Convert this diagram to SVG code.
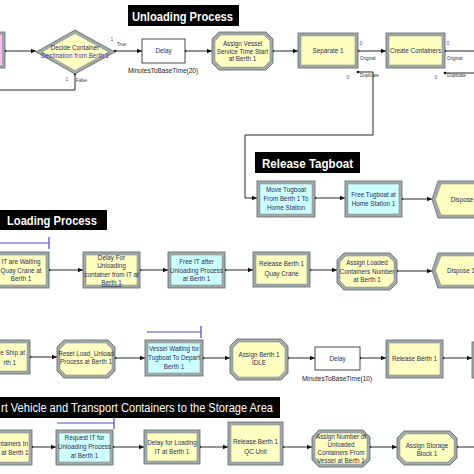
<svg xmlns="http://www.w3.org/2000/svg" width="474" height="474" viewBox="0 0 474 474">
<defs>
<marker id="ar" markerWidth="6" markerHeight="6" refX="5" refY="3" orient="auto" markerUnits="userSpaceOnUse"><path d="M0,0.8 L5,3 L0,5.2 Z" fill="#111"/></marker>
<marker id="dt" markerWidth="4" markerHeight="4" refX="2" refY="2" markerUnits="userSpaceOnUse"><circle cx="2" cy="2" r="1.3" fill="#111"/></marker>
<style>
.fr{fill:#a2aaaa;stroke:#5e6666;stroke-width:0.8}
.y{fill:#ffffc2;stroke:#7c8484;stroke-width:0.5}
.c{fill:#ccffff;stroke:#7c8484;stroke-width:0.5}
.p{fill:#ffbcf2;stroke:#7c8484;stroke-width:0.5}
.w{fill:#ffffff;stroke:#333;stroke-width:0.9}
.t{font-family:"Liberation Sans",Arial,sans-serif;font-size:6.3px;fill:#2c2c55;text-anchor:middle}
.te{font-family:"Liberation Sans",Arial,sans-serif;font-size:6.3px;fill:#2c2c55;text-anchor:end}
.s{font-family:"Liberation Sans",Arial,sans-serif;font-size:4.5px;fill:#333;text-anchor:start}
.b{font-family:"Liberation Sans",Arial,sans-serif;font-size:5px;fill:#4848c8;text-anchor:middle}
.lb{font-family:"Liberation Sans",Arial,sans-serif;font-size:6.5px;fill:#222;text-anchor:middle}
.h{font-family:"Liberation Sans",Arial,sans-serif;font-size:13px;font-weight:bold;fill:#fff}
.hb{fill:#000}
.cn{fill:none;stroke:#111;stroke-width:0.9;marker-end:url(#ar);marker-start:url(#dt)}
.br{fill:none;stroke:#4a4ac4;stroke-width:1.2}
</style>
</defs>
<rect width="474" height="474" fill="#fff"/>

<g id="titles">
<rect class="hb" x="128" y="5" width="111" height="21"/>
<text class="h" x="132" y="20.5" textLength="101" lengthAdjust="spacingAndGlyphs">Unloading Process</text>
<rect class="hb" x="255" y="152" width="105" height="21"/>
<text class="h" x="262" y="167.5" textLength="91" lengthAdjust="spacingAndGlyphs">Release Tagboat</text>
<rect class="hb" x="-2" y="210" width="109" height="20"/>
<text class="h" x="7" y="225" textLength="90" lengthAdjust="spacingAndGlyphs">Loading Process</text>
<rect class="hb" x="-2" y="397" width="282" height="21"/>
<text x="1" y="412" textLength="272" lengthAdjust="spacingAndGlyphs" style="font-family:'Liberation Sans',Arial,sans-serif;font-size:12.5px;fill:#fff">rt Vehicle and Transport Containers to the Storage Area</text>
</g>

<g id="brackets">
<path class="br" d="M0,243 H49 M49,237 V249"/>
<path class="br" d="M147,332 H201 M201,326 V338"/>
<path class="br" d="M57,423 H114 M114,417 V429"/>
</g>

<g id="connectors">
<path class="cn" d="M5,51 H36"/>
<path class="cn" d="M115,51 H142"/>
<path class="cn" d="M75,74 V90 H0" style="marker-end:none"/>
<path class="cn" d="M185,51 H212"/>
<path class="cn" d="M273,51 H298"/>
<path class="cn" d="M358,51 H386"/>
<path class="cn" d="M445,51 H474" style="marker-end:none"/>
<path class="cn" d="M358,72 H373 V135 H245 V198 H257"/>
<path class="cn" d="M445,73 H474" style="marker-end:none"/>
<path class="cn" d="M315,198 H345"/>
<path class="cn" d="M402,199 H432"/>
<path class="cn" d="M49,270 H83"/>
<path class="cn" d="M140,270 H168"/>
<path class="cn" d="M225,270 H253"/>
<path class="cn" d="M310,270 H337"/>
<path class="cn" d="M397,271 H432"/>
<path class="cn" d="M30,357 H57"/>
<path class="cn" d="M115,358 H145"/>
<path class="cn" d="M203,358 H230"/>
<path class="cn" d="M288,358 H315"/>
<path class="cn" d="M360,358 H386"/>
<path class="cn" d="M443,358 H472"/>
<path class="cn" d="M32,447 H56"/>
<path class="cn" d="M113,447 H144"/>
<path class="cn" d="M200,447 H228"/>
<path class="cn" d="M283,447 H312"/>
<path class="cn" d="M370,447 H397"/>
<path class="cn" d="M457,447 H474" style="marker-end:none"/>
</g>

<g id="n-create-vessel">
<rect class="fr" x="-6" y="32" width="11" height="36"/>
<rect class="p" x="-6" y="34.5" width="8.5" height="31"/>
</g>

<g id="n-decide">
<polygon class="fr" points="36,52 75,30 115,52 75,74"/>
<polygon class="y" points="42,52 75,33.5 108.5,52 75,70.5"/>
<text class="t" x="75" y="49.5">Decide Container</text>
<text class="t" x="75" y="57.5" style="fill:#3a3ac0">Destination from Berth 1</text>
<text class="b" x="112" y="41">1</text>
<text class="s" x="117" y="46">True</text>
<text class="b" x="67" y="81">1</text>
<text class="s" x="76" y="82">False</text>
</g>

<g id="n-delay20">
<rect class="w" x="142" y="39" width="43" height="24"/>
<text class="t" x="163.5" y="53">Delay</text>
<text class="lb" x="163" y="72.5">MinutesToBaseTime(20)</text>
</g>

<g id="n-assign-vessel">
<polygon class="fr" points="219,32 266,32 273,39 273,63 266,70 219,70 212,63 212,39"/>
<polygon class="y" points="221,35 264,35 270,41 270,61 264,67 221,67 215,61 215,41"/>
<text class="t" x="242.5" y="46.3">Assign Vessel</text>
<text class="t" x="242.5" y="53.8">Service Time Start</text>
<text class="t" x="242.5" y="61.3">at Berth 1</text>
</g>

<g id="n-separate">
<rect class="fr" x="298" y="33" width="60" height="35"/>
<rect class="y" x="301" y="36" width="54" height="29"/>
<text class="t" x="328" y="53">Separate 1</text>
<text class="b" x="361" y="45">0</text>
<text class="s" x="360" y="60">Original</text>
<text class="b" x="348" y="79">0</text>
<text class="s" x="360" y="77">Duplicate</text>
</g>

<g id="n-create-containers">
<rect class="fr" x="386" y="33" width="59" height="35"/>
<rect class="y" x="389" y="36" width="53" height="29"/>
<text class="t" x="415.5" y="53">Create Containers</text>
<text class="b" x="448" y="45">0</text>
<text class="s" x="447" y="60">Original</text>
<text class="b" x="436" y="79">0</text>
<text class="s" x="447" y="77">Duplicate</text>
</g>

<g id="n-move-tugboat">
<rect class="fr" x="257" y="181" width="58" height="36"/>
<rect class="c" x="260" y="184" width="52" height="30"/>
<text class="t" x="286" y="192.3">Move Tugboat</text>
<text class="t" x="286" y="201.1">From Berth 1 To</text>
<text class="t" x="286" y="209.9">Home Station</text>
</g>

<g id="n-free-tugboat">
<rect class="fr" x="345" y="181" width="57" height="36"/>
<rect class="c" x="348" y="184" width="51" height="30"/>
<text class="t" x="373.5" y="197">Free Tugboat at</text>
<text class="t" x="373.5" y="205.5">Home Station 1</text>
</g>

<g id="n-dispose">
<polygon class="fr" points="438,181 480,181 480,218 438,218 432,199.5"/>
<polygon class="y" points="441,184 480,184 480,215 441,215 435.5,199.5"/>
<text class="t" x="462" y="202">Dispose</text>
</g>

<g id="n-it-waiting">
<rect class="fr" x="-9" y="252" width="58" height="36"/>
<rect class="y" x="-6" y="255" width="52" height="30"/>
<text class="t" x="21" y="264.3">IT are Waiting</text>
<text class="t" x="21" y="272.8">Quay Crane at</text>
<text class="t" x="21" y="281.3">Berth 1</text>
</g>

<g id="n-delay-unloading">
<rect class="fr" x="83" y="252" width="57" height="36"/>
<rect class="y" x="86" y="255" width="51" height="30"/>
<text class="t" x="111.5" y="259.5">Delay For</text>
<text class="t" x="111.5" y="268">Unloading</text>
<text class="t" x="111.5" y="276.5">container from IT at</text>
<text class="t" x="111.5" y="285" style="text-decoration:underline">Berth 1</text>
</g>

<g id="n-free-it">
<rect class="fr" x="168" y="252" width="57" height="36"/>
<rect class="c" x="171" y="255" width="51" height="30"/>
<text class="t" x="196.5" y="264.3">Free IT after</text>
<text class="t" x="196.5" y="272.8">Unloading Process</text>
<text class="t" x="196.5" y="281.3">at Berth 1</text>
</g>

<g id="n-release-qc">
<rect class="fr" x="253" y="252" width="57" height="35"/>
<rect class="y" x="256" y="255" width="51" height="29"/>
<text class="t" x="281.5" y="266.3">Release Berth 1</text>
<text class="t" x="281.5" y="276.3">Quay Crane</text>
</g>

<g id="n-assign-loaded">
<polygon class="fr" points="344,253 390,253 397,260 397,283 390,290 344,290 337,283 337,260"/>
<polygon class="y" points="346,256 388,256 394,262 394,281 388,287 346,287 340,281 340,262"/>
<text class="t" x="367" y="265.3">Assign Loaded</text>
<text class="t" x="367" y="273.5">Containers Number</text>
<text class="t" x="367" y="281.7">at Berth 1</text>
</g>

<g id="n-dispose1">
<polygon class="fr" points="438,253 480,253 480,288 438,288 432,270.5"/>
<polygon class="y" points="441,256 480,256 480,285 441,285 435.5,270.5"/>
<text class="t" x="461" y="273">Dispose 1</text>
</g>

<g id="n-ship">
<rect class="fr" x="-30" y="340" width="60" height="34"/>
<rect class="y" x="-27" y="343" width="54" height="28"/>
<text class="te" x="25" y="355.3">e Ship at</text>
<text class="te" x="16" y="364.8">rth 1</text>
</g>

<g id="n-reset">
<polygon class="fr" points="64,340 108,340 115,347 115,371 108,378 64,378 57,371 57,347"/>
<polygon class="y" points="66,343 106,343 112,349 112,369 106,375 66,375 60,369 60,349"/>
<text class="t" x="86" y="356.3">Reset Load_Unload</text>
<text class="t" x="86" y="364.3">Process at Berth 1</text>
</g>

<g id="n-vessel-waiting">
<rect class="fr" x="145" y="340" width="58" height="36"/>
<rect class="c" x="148" y="343" width="52" height="30"/>
<text class="t" x="174" y="351.3">Vessel Waiting for</text>
<text class="t" x="174" y="360.3">Tugboat To Depart</text>
<text class="t" x="174" y="369.3">Berth 1</text>
</g>

<g id="n-assign-idle">
<polygon class="fr" points="237,339 281,339 288,346 288,373 281,380 237,380 230,373 230,346"/>
<polygon class="y" points="239,342 279,342 285,348 285,371 279,377 239,377 233,371 233,348"/>
<text class="t" x="259" y="357.3">Assign Berth 1</text>
<text class="t" x="259" y="365.3">IDLE</text>
</g>

<g id="n-delay10">
<rect class="w" x="315" y="347" width="45" height="23"/>
<text class="t" x="337.5" y="360.5">Delay</text>
<text class="lb" x="337" y="381">MinutesToBaseTime(10)</text>
</g>

<g id="n-release-berth">
<rect class="fr" x="386" y="340" width="57" height="38"/>
<rect class="y" x="389" y="343" width="51" height="32"/>
<text class="t" x="414.5" y="361.3">Release Berth 1</text>
</g>

<g id="n-next">
<rect class="fr" x="472" y="342" width="8" height="36"/>
</g>

<g id="n-containers-in">
<rect class="fr" x="-25" y="430" width="57" height="35"/>
<rect class="y" x="-22" y="433" width="51" height="29"/>
<text class="te" x="28" y="446.3">ntainers In</text>
<text class="te" x="28.5" y="454.8">at Berth 1</text>
</g>

<g id="n-request-it">
<rect class="fr" x="56" y="430" width="57" height="35"/>
<rect class="c" x="59" y="433" width="51" height="29"/>
<text class="t" x="84.5" y="440.3">Request IT for</text>
<text class="t" x="84.5" y="449.3">Unloading Process</text>
<text class="t" x="84.5" y="458.3">at Berth 1</text>
</g>

<g id="n-delay-loading">
<rect class="fr" x="144" y="430" width="56" height="34"/>
<rect class="y" x="147" y="433" width="50" height="28"/>
<text class="t" x="172" y="445.3">Delay for Loading</text>
<text class="t" x="172" y="454.3">IT at Berth 1</text>
</g>

<g id="n-release-qc-unit">
<rect class="fr" x="228" y="422" width="55" height="43"/>
<rect class="y" x="231" y="425" width="49" height="37"/>
<text class="t" x="255.5" y="444.3">Release Berth 1</text>
<text class="t" x="255.5" y="454.3">QC Unit</text>
</g>

<g id="n-assign-number">
<polygon class="fr" points="319,430 363,430 370,437 370,460 363,467 319,467 312,460 312,437"/>
<polygon class="y" points="321,433 361,433 367,439 367,458 361,464 321,464 315,458 315,439"/>
<text class="t" x="341" y="439.3">Assign Number of</text>
<text class="t" x="341" y="447.3">Unloaded</text>
<text class="t" x="341" y="455.3">Containers From</text>
<text class="t" x="341" y="463">Vessel at Berth 1</text>
</g>

<g id="n-assign-storage">
<polygon class="fr" points="404,431 450,431 457,438 457,458 450,465 404,465 397,458 397,438"/>
<polygon class="y" points="406,434 448,434 454,440 454,456 448,462 406,462 400,456 400,440"/>
<text class="t" x="427" y="448.3">Assign Storage</text>
<text class="t" x="427" y="456.3">Block 1</text>
</g>
</svg>
